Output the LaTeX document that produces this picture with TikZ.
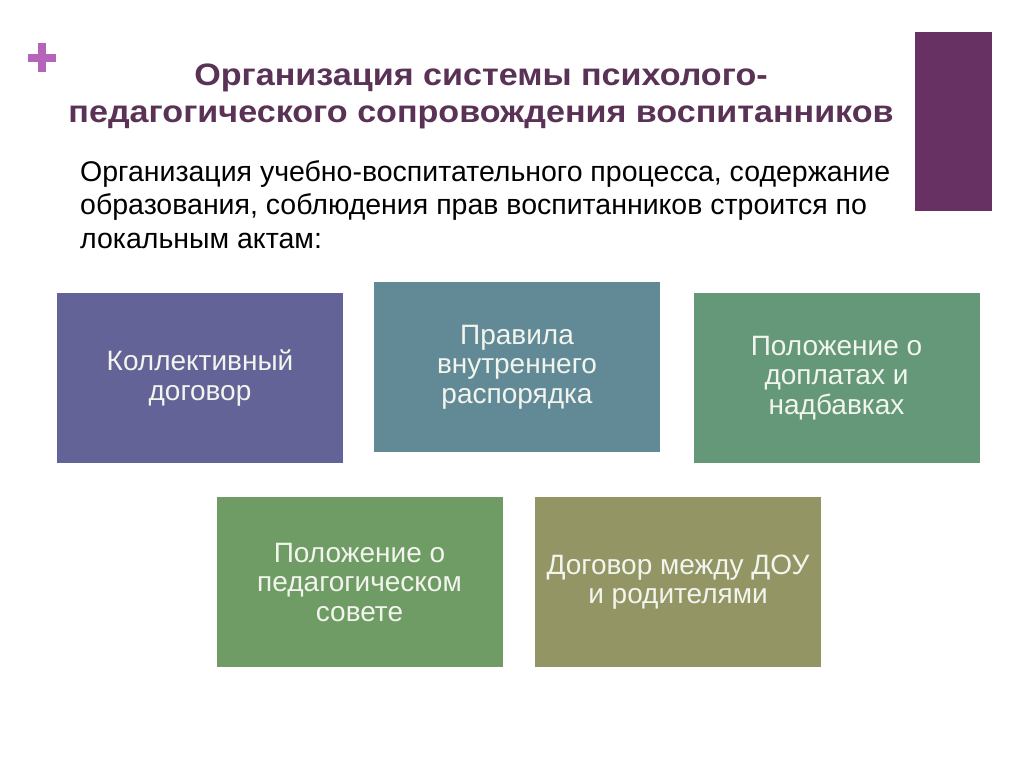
\documentclass[tikz,border=0pt]{standalone}
\usepackage{fontspec}
\setmainfont{Liberation Sans}
\newfontfamily\titlefont[FakeStretch=1.1]{Liberation Sans}
\begin{document}
\begin{tikzpicture}[x=1pt, y=-1pt,
    box/.style={fill=#1, minimum width=286, minimum height=170, inner sep=0pt,
        align=center, text=boxtext, font=\fontsize{28}{29.5}\selectfont},
]
    % Цвета слайда
    \definecolor{titlecol}{RGB}{89,50,86}
    \definecolor{barcol}{RGB}{103,50,99}
    \definecolor{pluscol}{RGB}{181,100,186}
    \definecolor{boxtext}{RGB}{242,245,238}
    \definecolor{box1}{RGB}{99,99,152}
    \definecolor{box2}{RGB}{98,138,150}
    \definecolor{box3}{RGB}{100,152,120}
    \definecolor{box4}{RGB}{111,155,100}
    \definecolor{box5}{RGB}{147,150,100}

    % Размер слайда
    \useasboundingbox[fill=white] (0,0) rectangle (1024,768);

    % Плюс и полоса справа
    \fill[pluscol] (28,54) rectangle (56,62);
    \fill[pluscol] (38,43) rectangle (46,72);
    \fill[barcol] (915,32) rectangle (992,211);

    % Заголовок
    \node[font=\titlefont\fontsize{31}{37}\selectfont\bfseries, text=titlecol, align=center] (zagolovok) at (481,96)
        {Организация системы психолого-\\педагогического сопровождения воспитанников};

    % Текст
    \node[font=\fontsize{28.5}{33.5}\selectfont, anchor=north west, align=left, inner sep=0pt] (tekst) at (80,160)
        {Организация учебно-воспитательного процесса, содержание\\
         образования, соблюдения прав воспитанников строится по\\
         локальным актам:};

    % Блоки
    \node[box=box1] (kollektiv) at (200,378) {Коллективный\\договор};
    \node[box=box2] (pravila) at (517,367) {Правила\\внутреннего\\распорядка};
    \node[box=box3] (doplaty) at (836.5,378) {Положение о\\доплатах и\\надбавках};
    \node[box=box4] (pedsovet) at (359.5,582) {Положение о\\педагогическом\\совете};
    \node[box=box5] (dogovor) at (678,582) {Договор между ДОУ\\и родителями};
\end{tikzpicture}
\end{document}
